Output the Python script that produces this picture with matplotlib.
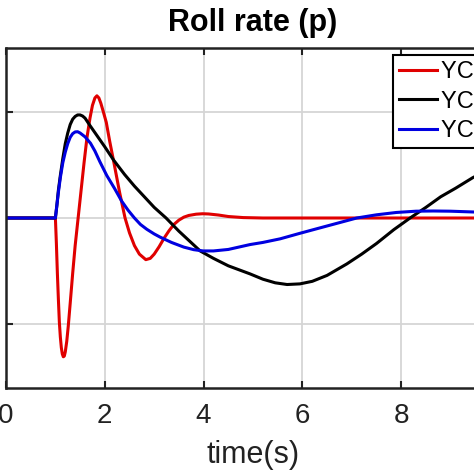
import matplotlib
matplotlib.use("Agg")
import matplotlib.pyplot as plt

# ---- data ----
t_red = [0.0, 1.0, 1.02, 1.04, 1.06, 1.08, 1.1, 1.12, 1.14, 1.16, 1.18, 1.2, 1.23, 1.26,
         1.3, 1.35, 1.4, 1.46, 1.52, 1.58, 1.64, 1.7, 1.75, 1.8, 1.84, 1.88, 1.92, 1.97,
         2.03, 2.1, 2.18, 2.3, 2.41, 2.5, 2.6, 2.7, 2.83, 2.92, 3.0, 3.1, 3.2,
         3.3, 3.4, 3.5, 3.6, 3.7, 3.85, 3.98, 4.1, 4.3, 4.5, 4.8, 5.2, 10.0]
y_red = [0.0, 0.0, -0.12, -0.26, -0.38, -0.49, -0.56, -0.61, -0.64, -0.653, -0.65, -0.63, -0.58, -0.51,
         -0.4, -0.26, -0.13, 0.0, 0.13, 0.26, 0.38, 0.47, 0.53, 0.565, 0.575, 0.565, 0.54, 0.5,
         0.45, 0.36, 0.266, 0.12, 0.0, -0.07, -0.13, -0.17, -0.196, -0.19, -0.17, -0.135, -0.095,
         -0.06, -0.03, -0.01, 0.004, 0.012, 0.018, 0.02, 0.019, 0.014, 0.007, 0.002, 0.0, 0.0]

t_black = [0.0, 1.0, 1.03, 1.06, 1.1, 1.15, 1.2, 1.25, 1.3, 1.35, 1.4, 1.45, 1.5, 1.55,
           1.6, 1.7, 1.85, 2.0, 2.18, 2.4, 2.6, 2.8, 3.0, 3.24, 3.5, 3.93, 4.2,
           4.5, 4.94, 5.2, 5.45, 5.69, 5.95, 6.2, 6.5, 6.9, 7.2, 7.5, 7.85, 8.18, 8.5,
           8.8, 9.1, 9.45, 9.8, 10.0]
y_black = [0.0, 0.0, 0.06, 0.13, 0.2, 0.28, 0.35, 0.4, 0.44, 0.465, 0.478, 0.485, 0.485, 0.48,
           0.47, 0.435, 0.385, 0.335, 0.272, 0.205, 0.15, 0.1, 0.05, 0.0, -0.062, -0.155, -0.19,
           -0.225, -0.263, -0.288, -0.305, -0.313, -0.31, -0.298, -0.27, -0.216, -0.17, -0.12, -0.055, 0.0, 0.05,
           0.1, 0.14, 0.19, 0.23, 0.25]

t_blue = [0.0, 1.0, 1.03, 1.06, 1.1, 1.15, 1.2, 1.25, 1.3, 1.35, 1.4, 1.45, 1.5, 1.6,
          1.71, 1.8, 1.9, 2.04, 2.2, 2.34, 2.47, 2.6, 2.72, 2.85, 3.0, 3.12, 3.35, 3.6, 3.8,
          3.99, 4.2, 4.5, 4.94, 5.2, 5.55, 5.95, 6.3, 6.7, 7.1, 7.5, 7.9, 8.3, 8.65,
          9.0, 9.5, 10.0]
y_blue = [0.0, 0.0, 0.06, 0.12, 0.19, 0.26, 0.31, 0.35, 0.38, 0.397, 0.405, 0.406, 0.4, 0.382,
          0.352, 0.315, 0.265, 0.2, 0.138, 0.08, 0.037, 0.0, -0.03, -0.053, -0.075, -0.09, -0.115, -0.137, -0.149,
          -0.155, -0.155, -0.148, -0.125, -0.115, -0.098, -0.072, -0.05, -0.025, 0.0, 0.015, 0.026, 0.032, 0.033,
          0.032, 0.028, 0.024]

labels = ["YC (case 1)", "YC (case 2)", "YC (case 3)"]
x_ticks = [0, 2, 4, 6, 8, 10]
y_ticks = [-0.5, 0.0, 0.5]
title = "Roll rate (p)"
xlabel = "time(s)"

plt.rcParams['font.family'] = ['Liberation Sans', 'DejaVu Sans']

fig = plt.figure(figsize=(4.74, 4.74), dpi=100)
W = 474.0
ax = fig.add_axes([6 / W, 86 / W, 494 / W, 340 / W])

lw = 2.2
ax.plot(t_red, y_red, color='#e00000', lw=lw, label=labels[0], solid_joinstyle='round')
ax.plot(t_black, y_black, color='black', lw=lw, label=labels[1], solid_joinstyle='round')
ax.plot(t_blue, y_blue, color='#0000e0', lw=lw, label=labels[2], solid_joinstyle='round')

ax.set_xlim(0, 10)
ax.set_ylim(-0.8, 0.8)
ax.set_xticks(x_ticks)
ax.set_yticks(y_ticks)
ax.grid(True, color='#d5d5d5', lw=1.3)
ax.set_axisbelow(True)
for s in ax.spines.values():
    s.set_linewidth(1.8)
    s.set_color('#222222')
ax.tick_params(direction='in', length=5, width=1.5, top=True, right=True,
               labelsize=20, colors='#222222', pad=11)
ax.set_xlabel(xlabel, fontsize=22, color='#222222', labelpad=8)
ax.set_title(title, fontsize=22, fontweight='bold', pad=12)

leg = fig.legend(loc='upper left', bbox_to_anchor=(393 / W, 1 - 55 / W),
                 fontsize=17, handlelength=1.6, handletextpad=0.17,
                 labelspacing=0.33, borderpad=0.25, borderaxespad=0,
                 fancybox=False, framealpha=1)
leg.get_frame().set_edgecolor('black')
leg.get_frame().set_linewidth(1.5)

fig.savefig('out.png', dpi=100)
